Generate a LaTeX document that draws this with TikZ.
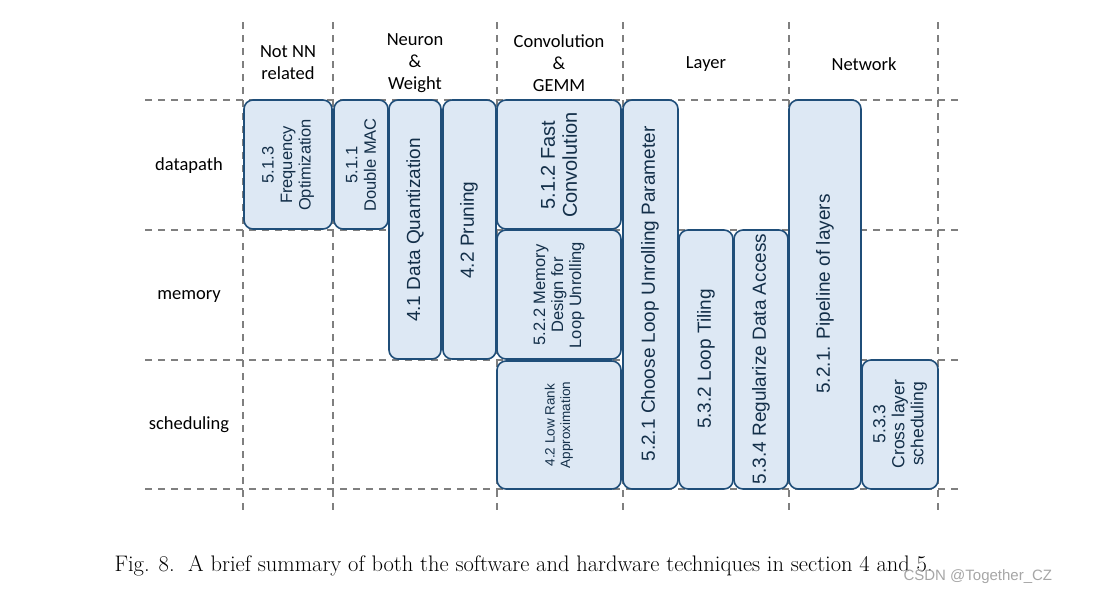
\documentclass[tikz,border=0pt]{standalone}
\usepackage{fontspec}
\setmainfont{Liberation Sans}
\newfontfamily\hdfont{Carlito}
\newfontfamily\capfont{Latin Modern Roman}
\definecolor{boxfill}{HTML}{DDE8F4}
\definecolor{boxdraw}{HTML}{1F4E79}
\definecolor{gridgray}{HTML}{7F7F7F}
\begin{document}
\begin{tikzpicture}[x=1pt,y=-1pt,
  gridline/.style={draw=gridgray, dash pattern=on 7pt off 6pt, line width=1.6pt},
  hd/.style={font=\hdfont\fontsize{18.5}{22}\selectfont, align=center},
  bx/.style={draw=boxdraw, fill=boxfill, line width=1.6pt, rounded corners=9pt},
  bt/.style={rotate=90, align=center, text=boxdraw!60!black, font=\fontsize{19}{21}\selectfont}]
\useasboundingbox (0,0) rectangle (1106,595);
% grid
\foreach \x in {243,333,497,623,789,938} \draw[gridline] (\x,22) -- (\x,514);
\foreach \y in {100,230,360,489} \draw[gridline] (145,\y) -- (958,\y);
% headers
\node[hd] (h1) at (288,63) {Not NN\\related};
\node[hd] (h2) at (415,63) {Neuron\\\&\\Weight};
\node[hd] (h3) at (559,63) {Convolution\\\&\\GEMM};
\node[hd] (h4) at (706,64) {Layer};
\node[hd] (h5) at (864,64) {Network};
\node[hd] (r1) at (189,166) {datapath};
\node[hd] (r2) at (189,296) {memory};
\node[hd] (r3) at (189,425) {scheduling};
% boxes
\draw[bx] (244,100) rectangle (332,229);
\node[bt, font=\fontsize{16.5}{18.5}\selectfont] (b1) at (288,165) {5.1.3\\Frequency\\Optimization};
\draw[bx] (334,100) rectangle (388,229);
\node[bt, font=\fontsize{16.5}{18.5}\selectfont] (b2) at (361,165) {5.1.1\\Double MAC};
\draw[bx] (389,100) rectangle (441,359);
\node[bt] (b3) at (415,230) {4.1 Data Quantization};
\draw[bx] (443,100) rectangle (496,359);
\node[bt] (b4) at (469,230) {4.2 Pruning};
\draw[bx] (497,100) rectangle (621,229);
\node[bt, font=\fontsize{20}{22}\selectfont] (b5) at (559,165) {5.1.2 Fast\\Convolution};
\draw[bx] (497,230) rectangle (621,359);
\node[bt, font=\fontsize{16.5}{18}\selectfont] (b6) at (559,295) {5.2.2 Memory\\Design for\\Loop Unrolling};
\draw[bx] (497,361) rectangle (621,489);
\node[bt, font=\fontsize{13.5}{15.5}\selectfont] (b7) at (559,425) {4.2 Low Rank\\Approximation};
\draw[bx] (623,100) rectangle (678,489);
\node[bt] (b8) at (650,294) {5.2.1 Choose Loop Unrolling Parameter};
\draw[bx] (679,230) rectangle (733,489);
\node[bt] (b9) at (706,359) {5.3.2 Loop Tiling};
\draw[bx] (734,230) rectangle (788,489);
\node[bt] (b10) at (761,359) {5.3.4 Regularize Data Access};
\draw[bx] (789,100) rectangle (861,489);
\node[bt] (b11) at (825,294) {5.2.1. Pipeline of layers};
\draw[bx] (862,360) rectangle (938,489);
\node[bt, font=\fontsize{17.5}{19}\selectfont] (b12) at (900,424) {5.3.3\\Cross layer\\scheduling};
% caption
\node[anchor=west, font=\capfont\fontsize{22.5}{24}\selectfont] (cap) at (111,566) {Fig. 8.\ \ A brief summary of both the software and hardware techniques in section 4 and 5.};
\node[anchor=west, text=gray!70, font=\fontsize{15}{16}\selectfont] (wm) at (900,577) {CSDN @Together\_CZ};
\end{tikzpicture}
\end{document}
